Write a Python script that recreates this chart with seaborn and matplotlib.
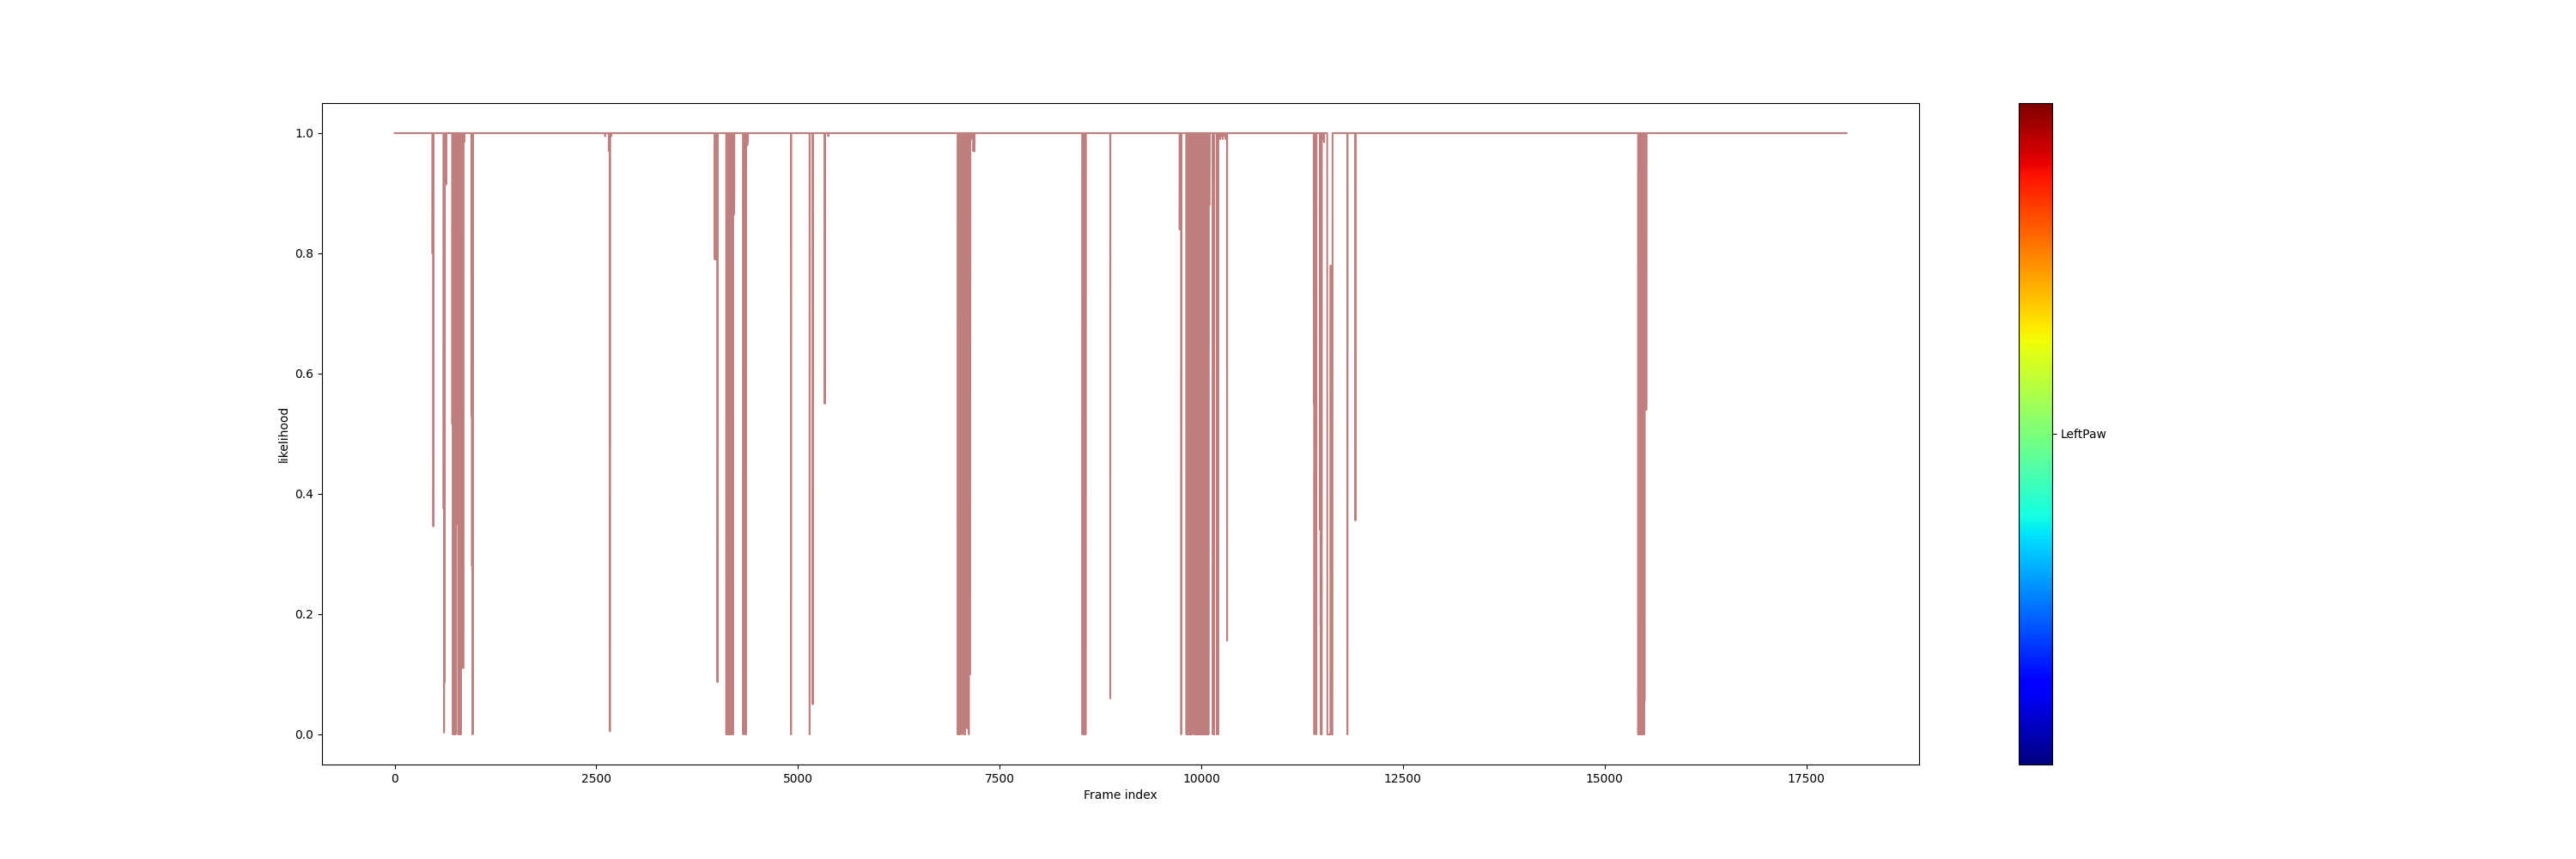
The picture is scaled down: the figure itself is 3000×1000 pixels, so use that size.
import numpy as np
import pandas as pd
import seaborn as sns
import matplotlib.pyplot as plt
import matplotlib as mpl

n_frames = 18000
bodyparts = ['LeftPaw']

# single frames where the likelihood drops, and the value it reaches
dip_frame = [470, 480, 608, 613, 622, 640, 715, 724, 740, 756, 776, 790, 808, 820,
             845, 850, 862, 952, 960, 968,
             2610, 2655, 2662, 2669, 2685,
             3970, 3982, 4003, 4112, 4124, 4136, 4148, 4160, 4172, 4184, 4196,
             4210, 4322, 4330, 4338, 4346, 4356, 4372, 4380,
             4914, 5145, 5184, 5333, 5376,
             6983, 6995, 7012, 7025, 7037, 7055, 7065, 7072, 7085, 7097, 7108,
             7118, 7128, 7136, 7161, 7175, 7189,
             8527, 8540, 8553, 8566, 8872,
             9732, 9740, 9752, 9816, 9828, 9840, 9852, 9864, 9876, 9887,
             9912, 9924, 9936, 9948, 9960, 9972, 9984, 9996, 10008, 10020,
             10032, 10044, 10056, 10068, 10080, 10089, 10100,
             10143, 10150, 10160, 10195, 10207, 10231, 10245, 10265, 10290,
             10302, 10320,
             11395, 11402, 11427, 11474, 11479, 11484, 11492, 11512, 11522,
             11604, 11811, 11911,
             15416, 15428, 15440, 15452, 15464, 15476, 15488, 15495, 15510, 15517]
dip_value = [0.80, 0.346, 0.375, 0.003, 0.087, 0.915, 0.516, 0.0, 0.0, 0.0, 0.35, 0.0, 0.0, 0.0,
             0.99, 0.11, 0.985, 0.53, 0.28, 0.0,
             0.995, 0.97, 0.975, 0.005, 0.995,
             0.79, 0.79, 0.087, 0.0, 0.0, 0.0, 0.0, 0.0, 0.0, 0.0, 0.0,
             0.865, 0.0, 0.43, 0.17, 0.0, 0.0, 0.98, 0.985,
             0.0, 0.0, 0.05, 0.55, 0.995,
             0.0, 0.0, 0.0, 0.98, 0.0, 0.006, 0.0, 0.0, 0.4, 0.01, 0.41,
             0.0, 0.52, 0.1, 0.99, 0.97, 0.97,
             0.0, 0.0, 0.0, 0.0, 0.06,
             0.84, 0.84, 0.0, 0.0, 0.0, 0.0, 0.0, 0.0, 0.0, 0.0,
             0.0, 0.0, 0.0, 0.0, 0.0, 0.0, 0.0, 0.0, 0.0, 0.0,
             0.0, 0.0, 0.0, 0.0, 0.0, 0.0, 0.88,
             0.0, 0.645, 0.0, 0.0, 0.0, 0.99, 0.995, 0.99, 0.995,
             0.99, 0.156,
             0.55, 0.0, 0.0, 0.34, 0.18, 0.0, 0.0, 0.99, 0.985,
             0.78, 0.0, 0.356,
             0.0, 0.0, 0.0, 0.0, 0.0, 0.0, 0.0, 0.055, 0.54, 0.54]

# stretches that stay low over several frames
run_start = [11562]
run_end = [11626]
run_value = [0.0]

likelihood = pd.Series(1.0, index=np.arange(n_frames))
for s, e, v in zip(run_start, run_end, run_value):
    likelihood.loc[s:e] = v
likelihood.loc[dip_frame] = dip_value
df = pd.DataFrame({'frame': likelihood.index, 'likelihood': likelihood.values})

cmap = plt.get_cmap('jet')

fig, ax = plt.subplots(figsize=(30, 10), dpi=100)
sns.lineplot(data=df, x='frame', y='likelihood', color=cmap(1.0), alpha=0.5,
             estimator=None, errorbar=None, ax=ax)
ax.set_xlabel('Frame index')
ax.set_ylabel('likelihood')

sm = mpl.cm.ScalarMappable(cmap=cmap, norm=mpl.colors.Normalize(vmin=0, vmax=1))
sm.set_array([])
cbar = fig.colorbar(sm, ax=ax)
cbar.set_ticks([0.5])
cbar.set_ticklabels(bodyparts)

fig.savefig('out.png', dpi=100)
